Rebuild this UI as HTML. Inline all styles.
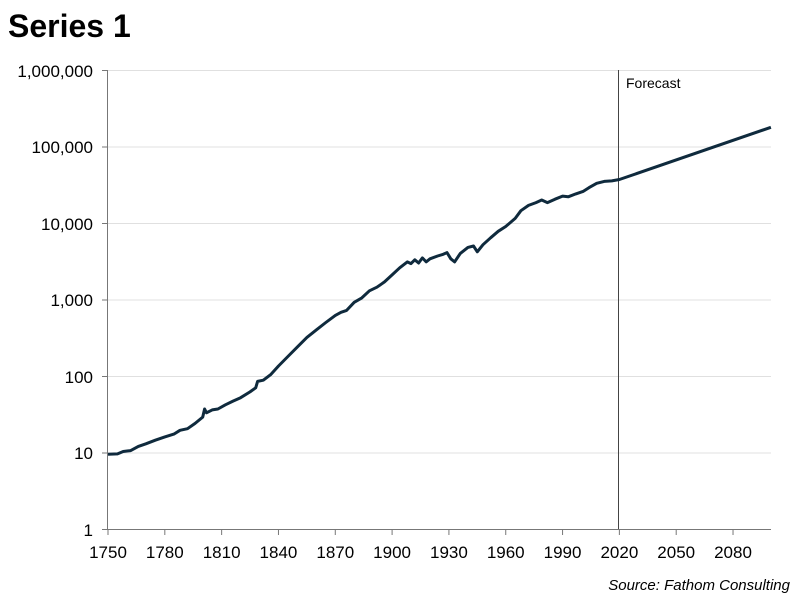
<!DOCTYPE html>
<html><head><meta charset="utf-8"><style>
body{margin:0;background:#fff;width:800px;height:601px;overflow:hidden;font-family:"Liberation Sans",Arial,sans-serif}
</style></head><body>
<svg id="s" width="800" height="601" xmlns="http://www.w3.org/2000/svg" font-family="Liberation Sans, Arial, sans-serif">
<text x="8" y="37" font-size="32" font-weight="bold" fill="#000">Series 1</text>
<g stroke="#e0e0e0" stroke-width="1">
<line x1="108" x2="771" y1="70.5" y2="70.5"/><line x1="108" x2="771" y1="147" y2="147"/>
<line x1="108" x2="771" y1="223.5" y2="223.5"/><line x1="108" x2="771" y1="300" y2="300"/>
<line x1="108" x2="771" y1="376.5" y2="376.5"/><line x1="108" x2="771" y1="453" y2="453"/>
</g>
<g stroke="#777" stroke-width="1">
<line x1="107.5" x2="107.5" y1="70" y2="529"/>
<line x1="102" x2="107" y1="70.5" y2="70.5"/><line x1="102" x2="107" y1="147" y2="147"/>
<line x1="102" x2="107" y1="223.5" y2="223.5"/><line x1="102" x2="107" y1="300" y2="300"/>
<line x1="102" x2="107" y1="376.5" y2="376.5"/><line x1="102" x2="107" y1="453" y2="453"/>
<line x1="102" x2="107" y1="529.5" y2="529.5"/>
<line x1="107" x2="771" y1="529.5" y2="529.5"/>
</g>
<g id="xt" stroke="#777"></g>
<line x1="618.5" x2="618.5" y1="70" y2="529" stroke="#444" stroke-width="1"/>
<text x="626" y="88" font-size="14" fill="#000">Forecast</text>
<g font-size="17" fill="#000" text-anchor="end">
<text x="93" y="77">1,000,000</text><text x="93" y="153">100,000</text>
<text x="93" y="230">10,000</text><text x="93" y="306">1,000</text>
<text x="93" y="383">100</text><text x="93" y="459">10</text><text x="93" y="536">1</text>
</g>
<g id="xl" font-size="17" fill="#000" text-anchor="middle"></g>
<text x="790" y="590" font-size="15" font-style="italic" text-anchor="end" fill="#000">Source: Fathom Consulting</text>
<polyline id="ln" fill="none" stroke="#0f2a3d" stroke-width="3" stroke-linejoin="round"/>
</svg>
<script>
var X=function(y){return 108+(y-1750)*1.894},Y=function(v){return 529-76.5*Math.log10(v)};
var xt=document.getElementById('xt'),xl=document.getElementById('xl'),ns='http://www.w3.org/2000/svg';
for(var i=0;i<12;i++){var yr=1750+30*i,x=X(yr);
var l=document.createElementNS(ns,'line');l.setAttribute('x1',x);l.setAttribute('x2',x);l.setAttribute('y1',529);l.setAttribute('y2',535);xt.appendChild(l);
var t=document.createElementNS(ns,'text');t.setAttribute('x',x);t.setAttribute('y',558);t.textContent=yr;xl.appendChild(t);}
var d=[[1750,9.5],[1755,9.6],[1758,10.3],[1762,10.6],[1766,12],[1770,13],[1775,14.5],[1780,16],[1785,17.5],[1788,19.5],[1792,20.5],[1796,24],[1800,29],[1801,37],[1802,33],[1805,36],[1808,37],[1812,42],[1816,47],[1820,52],[1825,62],[1828,70],[1829,85],[1832,88],[1836,105],[1840,135],[1845,180],[1850,240],[1855,320],[1860,400],[1865,500],[1870,620],[1873,680],[1876,720],[1880,920],[1884,1050],[1888,1300],[1892,1450],[1896,1700],[1900,2100],[1904,2600],[1908,3100],[1910,2950],[1912,3300],[1914,3000],[1916,3500],[1918,3100],[1920,3400],[1924,3700],[1927,3900],[1929,4100],[1931,3400],[1933,3100],[1936,4000],[1940,4800],[1943,5000],[1945,4200],[1948,5200],[1952,6400],[1956,7800],[1960,9000],[1965,11500],[1968,14500],[1972,17000],[1976,18500],[1979,20000],[1982,18500],[1986,20500],[1990,22500],[1993,22000],[1997,24000],[2001,26000],[2004,29000],[2008,33000],[2012,35000],[2016,35500],[2020,37000],[2100,178000]];
document.getElementById('ln').setAttribute('points',d.map(function(p){return X(p[0]).toFixed(1)+','+Y(p[1]).toFixed(1)}).join(' '));
</script>
</body></html>
